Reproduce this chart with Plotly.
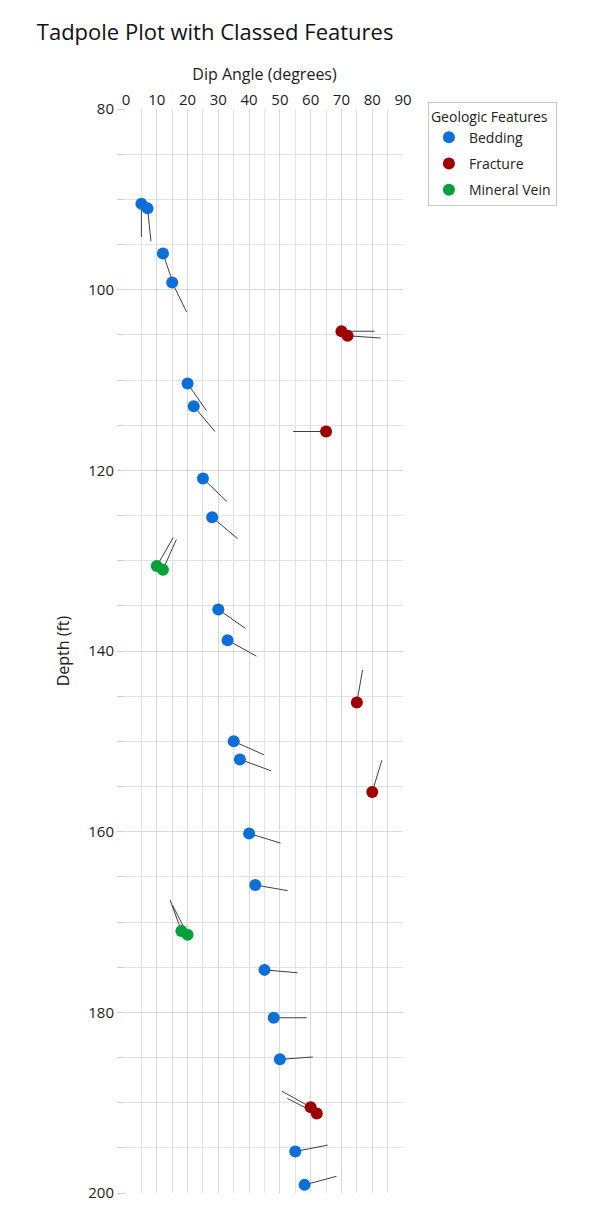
import plotly.graph_objects as go
import math

bed_dip = [5, 7, 12, 15, 20, 22, 25, 28, 30, 33, 35, 37, 40, 42, 45, 48, 50, 55, 58]
bed_depth = [90.5, 91, 96, 99.2, 110.4, 112.9, 120.9, 125.2, 135.4, 138.8, 150, 152, 160.2, 165.9, 175.3, 180.6, 185.2, 195.4, 199.1]
bed_az = [180, 174, 161, 154, 145, 140, 134, 130, 125, 119, 114, 110, 107, 100, 95, 90, 86, 79, 75]

fr_dip = [70, 72, 65, 75, 80, 60, 62]
fr_depth = [104.6, 105.1, 115.7, 145.7, 155.6, 190.5, 191.2]
fr_az = [90, 94, 270, 10, 17, 299, 297]

mv_dip = [10, 12, 18, 20]
mv_depth = [130.6, 131, 171, 171.4]
mv_az = [30, 24, 340, 333]

W, H = 600, 1225
ML, MR, MT, MB = 118, 205, 101, 40
XR = [0, 90]
YR = [200, 80]
pxx = (W - ML - MR) / (XR[1] - XR[0])
pxy = (H - MT - MB) / (YR[0] - YR[1])
L = 33

def tails(dips, depths, azs):
    xs, ys = [], []
    for d, z, a in zip(dips, depths, azs):
        r = math.radians(a)
        xs += [d, d + L * math.sin(r) / pxx, None]
        ys += [z, z - L * math.cos(r) / pxy, None]
    return xs, ys

fig = go.Figure()
for dips, depths, azs in [(bed_dip, bed_depth, bed_az), (fr_dip, fr_depth, fr_az), (mv_dip, mv_depth, mv_az)]:
    tx, ty = tails(dips, depths, azs)
    fig.add_trace(go.Scatter(x=tx, y=ty, mode="lines", line=dict(color="#404040", width=1),
                             showlegend=False, hoverinfo="skip"))

for name, dips, depths, col in [("Bedding", bed_dip, bed_depth, "#0a6fd6"),
                                ("Fracture", fr_dip, fr_depth, "#9c0000"),
                                ("Mineral Vein", mv_dip, mv_depth, "#00a03a")]:
    fig.add_trace(go.Scatter(x=dips, y=depths, mode="markers", name=name, legendgroup=name,
                             marker=dict(color=col, size=12)))

fig.update_layout(
    width=W, height=H,
    margin=dict(l=ML, r=MR, t=MT, b=MB),
    plot_bgcolor="white", paper_bgcolor="white",
    font=dict(family="Open Sans", color="#222", size=14),
    title=dict(text="Tadpole Plot with Classed Features", x=0.048, xanchor="left",
               y=0.98, yanchor="middle", font=dict(size=22, color="#111")),
    legend=dict(x=1.09, y=1.006, xanchor="left", yanchor="top",
                bordercolor="#c8c8c8", borderwidth=1, font=dict(size=14),
                title=dict(text="Geologic Features", font=dict(size=14)),
                tracegroupgap=5),
    xaxis=dict(side="top", range=XR, dtick=10, showgrid=True, gridcolor="#d9d9d9",
               minor=dict(dtick=5, showgrid=True, gridcolor="#e3e3e3"),
               zeroline=False, title=dict(text="Dip Angle (degrees)", font=dict(size=16), standoff=4),
               tickfont=dict(size=15)),
    yaxis=dict(range=YR, dtick=20, showgrid=True, gridcolor="#d9d9d9",
               minor=dict(dtick=5, showgrid=True, gridcolor="#e3e3e3", ticks="outside",
                          ticklen=8, tickcolor="#d0d0d0"),
               ticks="outside", ticklen=8, tickcolor="#d0d0d0",
               zeroline=False, title=dict(text="Depth (ft)", font=dict(size=16), standoff=14),
               tickfont=dict(size=15)),
)
fig.write_html("out.html")
